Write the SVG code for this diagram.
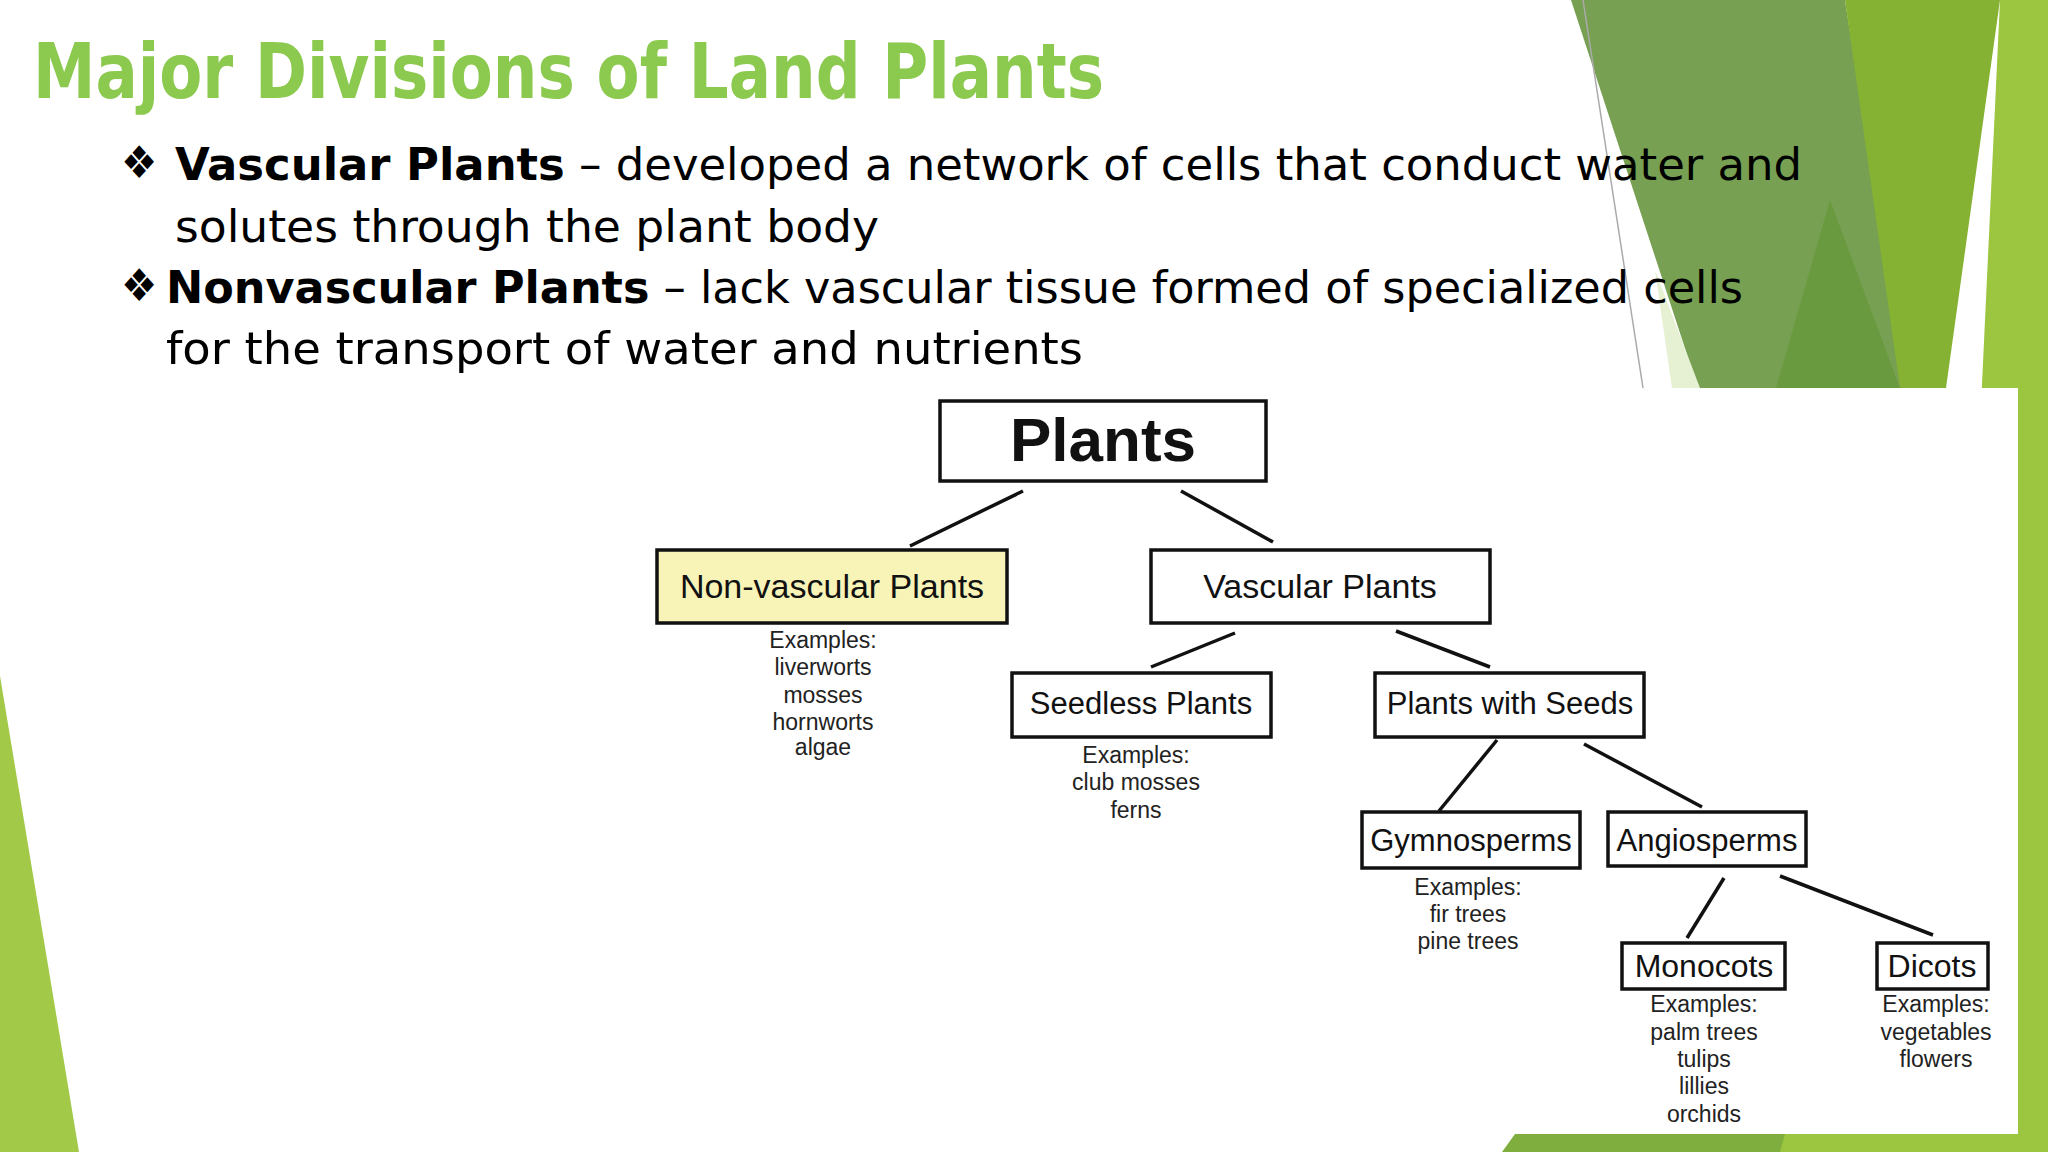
<svg xmlns="http://www.w3.org/2000/svg" width="2048" height="1152" viewBox="0 0 2048 1152">
<style>
.t{font-family:"Liberation Sans",Arial,sans-serif;fill:#111}
.b{fill:#fff;stroke:#111;stroke-width:3.5}
.n{font-size:34px;text-anchor:middle}
.e{font-size:23px;text-anchor:middle;fill:#222}
.s{font-family:"DejaVu Sans Condensed","DejaVu Sans",sans-serif;fill:#000;font-size:45px}
.c line{stroke:#111;stroke-width:3.5}
</style>
<rect width="2048" height="1152" fill="#fff"/>
<g id="background">
<polygon points="0,676 79,1152 0,1152" fill="#a2c947"/>
<polygon points="1571,0 1845,0 1905,388 1698,388" fill="#77a052"/>
<polygon points="1845,0 2000,0 1946,388 1900,388" fill="#85b232"/>
<polygon points="1830,200 1776,388 1900,388" fill="#6a9a40"/>
<polygon points="1655,270 1672,388 1700,388" fill="#e6f0d2"/>
<polygon points="2000,0 2048,0 2048,1152 1946,1152" fill="#9cc63f"/>
<line x1="1583" y1="0" x2="1643" y2="388" stroke="#aaa" stroke-width="1.5"/>
<rect x="640" y="388" width="1378" height="746" fill="#fff"/>
<polygon points="1502,1152 1515,1134 2048,1134 2048,1152" fill="#7fae3f"/>
<polygon points="1780,1152 1785,1134 2048,1134 2048,1152" fill="#9cc63f"/>
</g>
<g id="title">
<text x="33" y="98" font-family="'DejaVu Sans Condensed','DejaVu Sans',sans-serif" font-weight="bold" font-size="76" fill="#8cc94f" textLength="1071" lengthAdjust="spacingAndGlyphs">Major Divisions of Land Plants</text>
</g>
<g id="bullets">
<text x="121" y="178" class="s" font-size="38">❖</text>
<text x="175" y="180" class="s" textLength="1627" lengthAdjust="spacingAndGlyphs"><tspan font-weight="bold">Vascular Plants</tspan> – developed a network of cells that conduct water and</text>
<text x="175" y="242" class="s" textLength="704" lengthAdjust="spacingAndGlyphs">solutes through the plant body</text>
<text x="121" y="301" class="s" font-size="38">❖</text>
<text x="166" y="303" class="s" textLength="1577" lengthAdjust="spacingAndGlyphs"><tspan font-weight="bold">Nonvascular Plants</tspan> – lack vascular tissue formed of specialized cells</text>
<text x="166" y="364" class="s" textLength="917" lengthAdjust="spacingAndGlyphs">for the transport of water and nutrients</text>
</g>
<g class="c" id="connectors">
<line x1="1023" y1="491" x2="910" y2="546"/>
<line x1="1181" y1="491" x2="1273" y2="542"/>
<line x1="1235" y1="633" x2="1151" y2="667"/>
<line x1="1396" y1="631" x2="1490" y2="667"/>
<line x1="1497" y1="740" x2="1439" y2="811"/>
<line x1="1584" y1="744" x2="1702" y2="807"/>
<line x1="1724" y1="878" x2="1687" y2="938"/>
<line x1="1780" y1="876" x2="1933" y2="935"/>
</g>
<g id="plants"><rect class="b" x="940" y="401" width="326" height="80"/><text class="t" x="1103" y="461" font-size="62" font-weight="bold" text-anchor="middle">Plants</text></g>
<g id="nonvascular"><rect class="b" x="657" y="550" width="350" height="73" style="fill:#f8f4b8"/><text class="t n" x="832" y="598">Non-vascular Plants</text>
<text class="t e" x="823" y="648">Examples:</text><text class="t e" x="823" y="675">liverworts</text><text class="t e" x="823" y="703">mosses</text><text class="t e" x="823" y="730">hornworts</text><text class="t e" x="823" y="755">algae</text></g>
<g id="vascular"><rect class="b" x="1151" y="550" width="339" height="73"/><text class="t n" x="1320" y="598">Vascular Plants</text></g>
<g id="seedless"><rect class="b" x="1012" y="673" width="259" height="64"/><text class="t n" x="1141" y="714" style="font-size:31px">Seedless Plants</text>
<text class="t e" x="1136" y="763">Examples:</text><text class="t e" x="1136" y="790">club mosses</text><text class="t e" x="1136" y="818">ferns</text></g>
<g id="seeds"><rect class="b" x="1375" y="673" width="269" height="64"/><text class="t n" x="1510" y="714" style="font-size:31px">Plants with Seeds</text></g>
<g id="gymnosperms"><rect class="b" x="1362" y="812" width="218" height="56"/><text class="t n" x="1471" y="851" style="font-size:31px">Gymnosperms</text>
<text class="t e" x="1468" y="895">Examples:</text><text class="t e" x="1468" y="922">fir trees</text><text class="t e" x="1468" y="949">pine trees</text></g>
<g id="angiosperms"><rect class="b" x="1608" y="812" width="198" height="54"/><text class="t n" x="1707" y="851" style="font-size:31px">Angiosperms</text></g>
<g id="monocots"><rect class="b" x="1622" y="943" width="163" height="46"/><text class="t n" x="1704" y="977" style="font-size:32px">Monocots</text>
<text class="t e" x="1704" y="1012">Examples:</text><text class="t e" x="1704" y="1040">palm trees</text><text class="t e" x="1704" y="1067">tulips</text><text class="t e" x="1704" y="1094">lillies</text><text class="t e" x="1704" y="1122">orchids</text></g>
<g id="dicots"><rect class="b" x="1877" y="943" width="111" height="46"/><text class="t n" x="1932" y="977" style="font-size:32px">Dicots</text>
<text class="t e" x="1936" y="1012">Examples:</text><text class="t e" x="1936" y="1040">vegetables</text><text class="t e" x="1936" y="1067">flowers</text></g>
</svg>
